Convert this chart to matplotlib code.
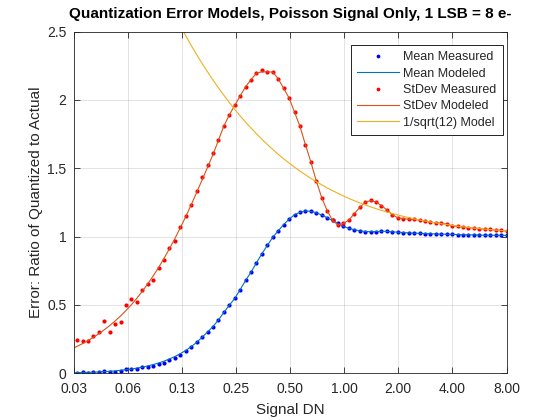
import numpy as np
import matplotlib
matplotlib.use("Agg")
import matplotlib.pyplot as plt

plt.rcParams['font.family'] = ['Liberation Sans', 'DejaVu Sans']

# ---------------- data ----------------
# measured grid (80 log-spaced signal levels, DN)
x_first, x_last, n_meas = 0.0327, 8.0, 80
signal_dn = np.geomspace(x_first, x_last, n_meas)
# model grid starts at the left axis edge
signal_dn_model = np.concatenate([[0.03125], signal_dn])

mean_measured = [
    0.005, 0.006, 0.005, 0.007, 0.010, 0.015, 0.011, 0.013, 0.017, 0.032,
    0.034, 0.029, 0.044, 0.049, 0.053, 0.068, 0.076, 0.097, 0.114, 0.133,
    0.163, 0.190, 0.226, 0.268, 0.304, 0.341, 0.390, 0.448, 0.500, 0.548,
    0.612, 0.679, 0.740, 0.808, 0.875, 0.935, 0.995, 1.042, 1.088, 1.127,
    1.160, 1.178, 1.188, 1.184, 1.175, 1.158, 1.138, 1.118, 1.096, 1.075,
    1.060, 1.050, 1.042, 1.037, 1.036, 1.037, 1.039, 1.038, 1.035, 1.032,
    1.029, 1.027, 1.025, 1.024, 1.022, 1.021, 1.019, 1.018, 1.017, 1.016,
    1.015, 1.014, 1.013, 1.012, 1.011, 1.010, 1.0095, 1.009, 1.0085, 1.008,
]

mean_modeled = [
    0.004,
    0.005, 0.006, 0.007, 0.008, 0.010, 0.012, 0.015, 0.018, 0.022, 0.026,
    0.031, 0.038, 0.045, 0.054, 0.064, 0.075, 0.089, 0.105, 0.123, 0.144,
    0.167, 0.195, 0.226, 0.264, 0.302, 0.342, 0.390, 0.445, 0.497, 0.548,
    0.612, 0.679, 0.740, 0.808, 0.875, 0.935, 0.995, 1.042, 1.088, 1.127,
    1.160, 1.178, 1.188, 1.184, 1.175, 1.158, 1.138, 1.118, 1.096, 1.075,
    1.060, 1.050, 1.042, 1.037, 1.036, 1.037, 1.039, 1.038, 1.035, 1.032,
    1.029, 1.027, 1.025, 1.024, 1.022, 1.021, 1.019, 1.018, 1.017, 1.016,
    1.015, 1.014, 1.013, 1.012, 1.011, 1.010, 1.0095, 1.009, 1.0085, 1.008,
]

stdev_measured = [
    0.240, 0.235, 0.238, 0.271, 0.305, 0.381, 0.305, 0.359, 0.377, 0.502,
    0.545, 0.521, 0.609, 0.650, 0.686, 0.771, 0.828, 0.920, 0.966, 1.067,
    1.154, 1.231, 1.337, 1.434, 1.527, 1.612, 1.704, 1.809, 1.889, 1.960,
    2.028, 2.096, 2.148, 2.199, 2.216, 2.206, 2.204, 2.155, 2.084, 2.014,
    1.911, 1.806, 1.673, 1.546, 1.408, 1.285, 1.190, 1.118, 1.085, 1.096,
    1.121, 1.168, 1.213, 1.250, 1.264, 1.253, 1.226, 1.195, 1.160, 1.137,
    1.132, 1.127, 1.125, 1.120, 1.113, 1.105, 1.101, 1.097, 1.091, 1.080,
    1.074, 1.069, 1.064, 1.062, 1.059, 1.054, 1.052, 1.047, 1.045, 1.040,
]

stdev_modeled = [
    0.184,
    0.197, 0.217, 0.239, 0.263, 0.289, 0.318, 0.349, 0.383, 0.419, 0.459,
    0.502, 0.549, 0.600, 0.654, 0.712, 0.774, 0.841, 0.911, 0.986, 1.065,
    1.147, 1.233, 1.323, 1.414, 1.507, 1.600, 1.704, 1.809, 1.889, 1.960,
    2.028, 2.096, 2.148, 2.195, 2.205, 2.205, 2.203, 2.155, 2.084, 2.014,
    1.911, 1.806, 1.673, 1.546, 1.408, 1.285, 1.190, 1.118, 1.085, 1.096,
    1.121, 1.168, 1.213, 1.250, 1.264, 1.253, 1.226, 1.195, 1.160, 1.137,
    1.132, 1.127, 1.125, 1.120, 1.113, 1.105, 1.101, 1.097, 1.091, 1.080,
    1.074, 1.069, 1.064, 1.062, 1.059, 1.054, 1.052, 1.047, 1.045, 1.040,
]

# 1/sqrt(12) model, from the 18th measured level onward (above 2.5 before)
sqrt12_start = 17
sqrt12_model = [
    2.697, 2.617, 2.542,
    2.468, 2.398, 2.331, 2.266, 2.205, 2.145, 2.088, 2.034, 1.981, 1.931,
    1.883, 1.837, 1.794, 1.752, 1.712, 1.674, 1.637, 1.602, 1.569, 1.538,
    1.508, 1.479, 1.452, 1.426, 1.402, 1.379, 1.356, 1.336, 1.316, 1.297,
    1.279, 1.2625, 1.2466, 1.2317, 1.2175, 1.2042, 1.1916, 1.1797, 1.1686, 1.1580,
    1.1481, 1.1388, 1.1300, 1.1218, 1.1141, 1.1068, 1.1000, 1.0936, 1.0875, 1.0819,
    1.0766, 1.0716, 1.0670, 1.0626, 1.0586, 1.0548, 1.0512, 1.0478, 1.0447, 1.0417,
]

x_ticks = [0.03125, 0.0625, 0.125, 0.25, 0.5, 1, 2, 4, 8]
x_tick_labels = ["0.03", "0.06", "0.13", "0.25", "0.50", "1.00", "2.00", "4.00", "8.00"]
y_ticks = [0, 0.5, 1, 1.5, 2, 2.5]
y_tick_labels = ["0", "0.5", "1", "1.5", "2", "2.5"]

# ---------------- style ----------------
C_MEAN_PTS = (0.0, 0.0, 1.0)
C_MEAN_LINE = (0.0, 0.447, 0.741)
C_STD_PTS = (1.0, 0.0, 0.0)
C_STD_LINE = (0.850, 0.325, 0.098)
C_SQ12 = (0.929, 0.694, 0.125)
AX_COL = (0.15, 0.15, 0.15)

fig = plt.figure(figsize=(5.6, 4.2), dpi=100)
ax = fig.add_axes([0.1313, 0.1112, 0.7732, 0.8138])

ax.plot(signal_dn, mean_measured, linestyle='none', marker='o', ms=3.0,
        mew=0, color=C_MEAN_PTS, label='Mean Measured')
ax.plot(signal_dn_model, mean_modeled, '-', lw=0.8, color=C_MEAN_LINE,
        label='Mean Modeled')
ax.plot(signal_dn, stdev_measured, linestyle='none', marker='o', ms=3.0,
        mew=0, color=C_STD_PTS, label='StDev Measured')
ax.plot(signal_dn_model, stdev_modeled, '-', lw=0.8, color=C_STD_LINE,
        label='StDev Modeled')
ax.plot(signal_dn[sqrt12_start:], sqrt12_model, '-', lw=0.8, color=C_SQ12,
        label='1/sqrt(12) Model')

ax.set_xscale('log')
ax.set_xlim(0.03125, 8)
ax.set_ylim(0, 2.5)
ax.set_xticks(x_ticks)
ax.set_xticklabels(x_tick_labels)
ax.xaxis.set_minor_locator(matplotlib.ticker.NullLocator())
ax.set_yticks(y_ticks)
ax.set_yticklabels(y_tick_labels)

ax.grid(True, color=(0.15, 0.15, 0.15), alpha=0.15, lw=0.6)
ax.set_axisbelow(True)
for s in ax.spines.values():
    s.set_color(AX_COL)
    s.set_linewidth(0.6)
ax.tick_params(axis='both', which='both', direction='in', length=4,
               width=0.6, color=AX_COL, labelcolor=AX_COL, labelsize=10,
               top=True, right=True)
ax.tick_params(axis='x', pad=6)
ax.tick_params(axis='y', pad=5)

ax.set_title('Quantization Error Models, Poisson Signal Only, 1 LSB = 8 e-',
             fontsize=11, fontweight='bold', pad=10, color='black')
ax.set_xlabel('Signal DN', fontsize=11, color=AX_COL, labelpad=5)
ax.set_ylabel('Error: Ratio of Quantized to Actual', fontsize=11,
              color=AX_COL, labelpad=3)

leg = ax.legend(loc='upper right', bbox_to_anchor=(0.991, 0.9605),
                borderaxespad=0, fontsize=9, frameon=True, fancybox=False,
                shadow=False, framealpha=1, edgecolor='black',
                handlelength=3.4, handletextpad=0.3, labelspacing=0.35,
                borderpad=0.5, markerscale=0.9)
leg.get_frame().set_linewidth(0.6)
for t in leg.get_texts():
    t.set_color(AX_COL)

fig.savefig('out.png', dpi=100)
